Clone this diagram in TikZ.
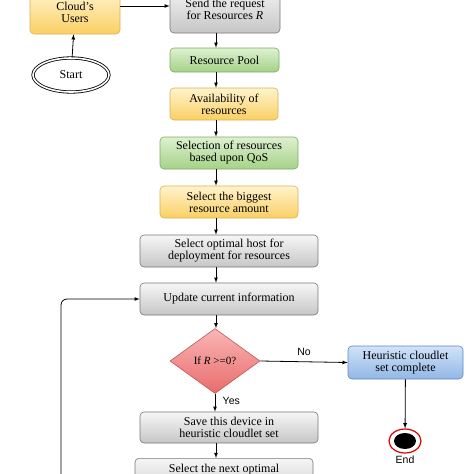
\documentclass[tikz,border=0pt]{standalone}
\usepackage{fontspec}
\setmainfont{Liberation Serif}
\newfontfamily\labelfont{Liberation Sans}
\usetikzlibrary{shapes.geometric}

\definecolor{grayTop}{RGB}{246,246,246}
\definecolor{grayBot}{RGB}{198,198,198}
\definecolor{grayLine}{RGB}{120,120,120}
\definecolor{yelTop}{RGB}{255,243,205}
\definecolor{yelBot}{RGB}{250,208,100}
\definecolor{yelLine}{RGB}{215,178,80}
\definecolor{grnTop}{RGB}{222,240,208}
\definecolor{grnBot}{RGB}{165,210,135}
\definecolor{grnLine}{RGB}{125,172,100}
\definecolor{redTop}{RGB}{250,182,182}
\definecolor{redBot}{RGB}{232,108,108}
\definecolor{redLine}{RGB}{195,85,85}
\definecolor{bluTop}{RGB}{208,227,249}
\definecolor{bluBot}{RGB}{146,183,229}
\definecolor{bluLine}{RGB}{95,135,190}

\tikzset{
	box/.style={rounded corners=4pt, align=center, inner sep=2pt, semithick,
		font=\fontsize{12}{12}\selectfont},
	graybox/.style={box, draw=grayLine, top color=grayTop, bottom color=grayBot},
	yellowbox/.style={box, draw=yelLine, top color=yelTop, bottom color=yelBot},
	greenbox/.style={box, draw=grnLine, top color=grnTop, bottom color=grnBot},
	bluebox/.style={box, draw=bluLine, top color=bluTop, bottom color=bluBot},
	decision/.style={diamond, draw=redLine, top color=redTop, bottom color=redBot,
		inner sep=0pt, aspect=1.4, semithick, font=\fontsize{11}{12}\selectfont},
	endmark/.style={ellipse, draw=red!85!black, line width=1.2pt, fill=white,
		minimum width=32pt, minimum height=24pt,
		path picture={\fill[black] (path picture bounding box.center) ellipse (11pt and 8pt);}},
	answer/.style={font=\labelfont\fontsize{10.5}{12}\selectfont}
}

\begin{document}
\begin{tikzpicture}[x=1pt, y=-1pt, >=latex, thick]

\useasboundingbox (0,0) rectangle (474,474);
\clip (0,0) rectangle (474,474);

\coordinate (spine) at (216, 0);
\coordinate (back) at (61, 0);

\node[yellowbox, minimum width=90pt, minimum height=44pt] (users) at (75, 12) {Cloud's\\Users};
\node[graybox, minimum width=110pt, minimum height=48pt] (request) at (225, 9) {Send the request\\for Resources \textit{R}};
\node[draw, ellipse, double, double distance=1.6pt, minimum width=76pt, minimum height=34pt,
	font=\fontsize{12}{13}\selectfont] (start) at (71, 75) {Start};

\node[greenbox, minimum width=109pt, minimum height=24pt] (pool) at (224.5, 60) {Resource Pool};
\node[yellowbox, minimum width=108pt, minimum height=32pt] (avail) at (224, 104) {Availability of\\resources};
\node[greenbox, minimum width=138pt, minimum height=32pt] (qos) at (229, 153) {Selection of resources\\based upon QoS};
\node[yellowbox, minimum width=138pt, minimum height=32pt] (biggest) at (229, 202) {Select the biggest\\resource amount};
\node[graybox, minimum width=178pt, minimum height=32pt] (host) at (229, 251) {Select optimal host for\\deployment for resources};
\node[graybox, minimum width=178pt, minimum height=32pt] (update) at (229, 299) {Update current information};
\node[decision, minimum width=90pt, minimum height=65pt] (cond) at (215, 361) {If \textit{R} >=0?};
\node[bluebox, minimum width=115pt, minimum height=33pt] (done) at (405.5, 362.5) {Heuristic cloudlet\\set complete};
\node[graybox, minimum width=178pt, minimum height=31pt] (save) at (229, 427.5) {Save this device in\\heuristic cloudlet set};
\node[graybox, anchor=north, minimum width=178pt, minimum height=44pt, text depth=24pt] (next) at (224, 458) {Select the next optimal};
\node[endmark, label={[answer, inner sep=2pt]below:End}] (end) at (405, 441) {};

\draw[->] (start) -- (users);
\draw[->] ([yshift=6pt]users.east) -- ([yshift=6pt]request.west |- users.east);
\foreach \a/\b in {request/pool, pool/avail, avail/qos, qos/biggest,
	biggest/host, host/update, update/cond, save/next}
\draw[->] (\a.south -| spine) -- (\b.north -| spine);

\draw[->] (cond) -- (save.north -| cond) node[pos=0.4, right=4pt, answer] {Yes};
\draw[->] (cond.east) -- (done.west) node[midway, above=2pt, answer] {No};
\draw[->] (done) -- (end);
\draw[->, rounded corners=6pt] (next.west) -- (next.west -| back) -- (update.west -| back) -- (update.west);

\end{tikzpicture}
\end{document}
